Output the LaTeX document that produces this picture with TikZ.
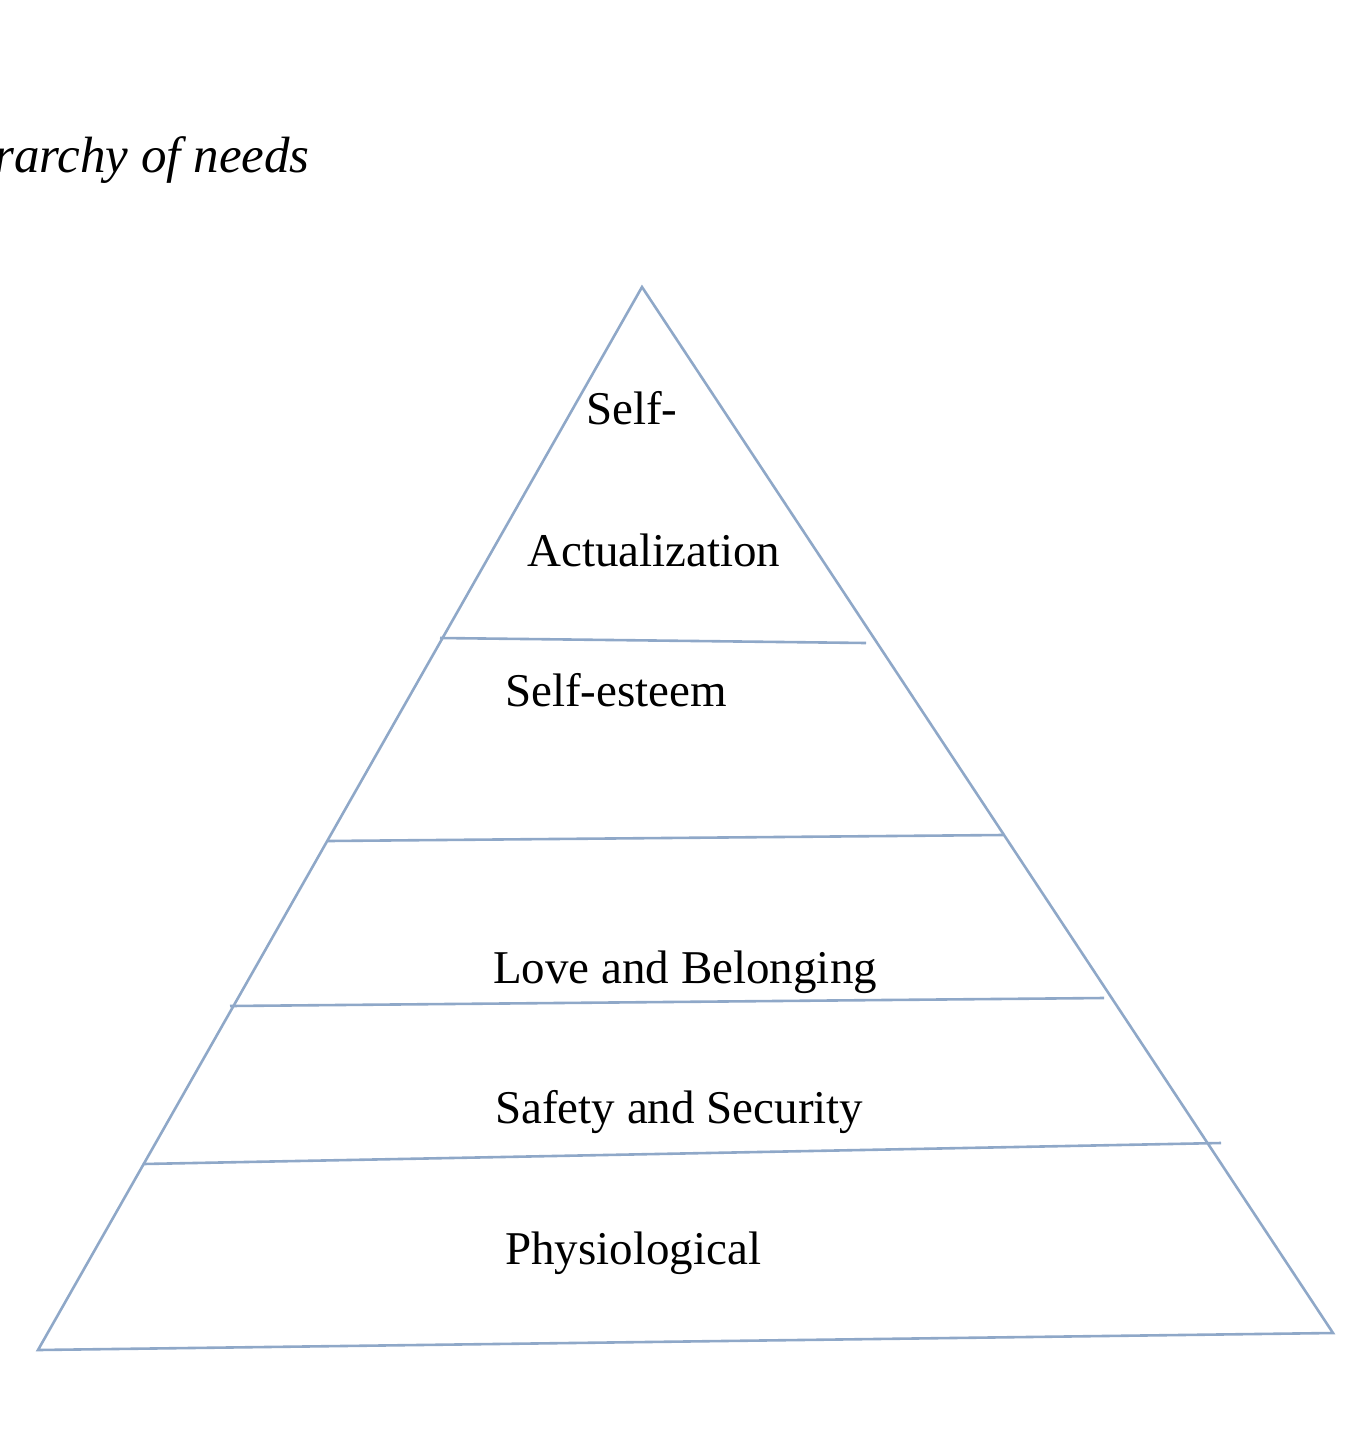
\documentclass[tikz,border=0pt]{standalone}
\usepackage{fontspec}
\setmainfont{Liberation Serif}
\definecolor{edgecol}{HTML}{8FA8C8}
\begin{document}
\begin{tikzpicture}[x=1pt,y=-1pt,
  edge/.style={draw=edgecol,line width=2.6pt},
  lbl/.style={font=\fontsize{47}{50}\selectfont,inner sep=0pt,anchor=west}]
\useasboundingbox (0,0) rectangle (1355,1432);
\node[font=\fontsize{51}{54}\selectfont\itshape,anchor=east,inner sep=0pt] (title) at (310,160) {rarchy of needs};
\coordinate (apex) at (642,287);
\coordinate (bl) at (38,1350);
\coordinate (br) at (1333,1333);
\draw[edge] (bl) -- (apex) -- (br) -- cycle;
\draw[edge] (440,638) -- (866,643);
\draw[edge] (328,841) -- (1003,835);
\draw[edge] (230,1006) -- (1104,998);
\draw[edge] (143,1164) -- (1221,1143);
\node[lbl] (sa1) at (586,408) {Self-};
\node[lbl] (sa2) at (527,550) {Actualization};
\node[lbl] (se) at (505,690) {Self-esteem};
\node[lbl] (lb) at (493,972) {Love and Belonging};
\node[lbl] (ss) at (495,1112) {Safety and Security};
\node[lbl] (ph) at (505,1253) {Physiological};
\end{tikzpicture}
\end{document}
